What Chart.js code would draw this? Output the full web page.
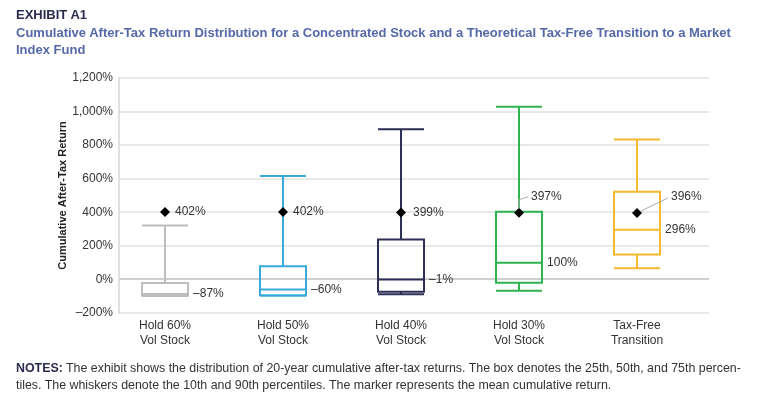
<!DOCTYPE html>
<html>
<head>
<meta charset="utf-8">
<title>Exhibit A1</title>
<script src="https://cdn.jsdelivr.net/npm/chart.js@4.4.0/dist/chart.umd.min.js"></script>
<style>
body{margin:0;background:#fff;font-family:"Liberation Sans",Arial,sans-serif;}
#wrap{position:relative;width:780px;height:399px;overflow:hidden;}
#exChart{position:absolute;left:0;top:0;}
.exhibit{position:absolute;left:16px;top:8px;font-size:13px;line-height:13px;font-weight:bold;color:#2b2b4e;}
.subtitle{position:absolute;left:16px;top:24px;font-size:13px;line-height:17px;font-weight:bold;color:#5568a8;white-space:nowrap;}
.notes{position:absolute;left:16px;top:360px;font-size:12.4px;line-height:16.5px;color:#333;white-space:nowrap;}
.notes b{color:#2b2b4e;}
</style>
</head>
<body>
<div id="wrap">
<canvas id="exChart" width="780" height="399"></canvas>
<div class="exhibit">EXHIBIT A1</div>
<div class="subtitle">Cumulative After-Tax Return Distribution for a Concentrated Stock and a Theoretical Tax-Free Transition to a Market<br>Index Fund</div>
<div class="notes"><b>NOTES:</b> The exhibit shows the distribution of 20-year cumulative after-tax returns. The box denotes the 25th, 50th, and 75th percen-<br>tiles. The whiskers denote the 10th and 90th percentiles. The marker represents the mean cumulative return.</div>
</div>
<script>
// box plot values (cumulative after-tax return, %)
const categories = [["Hold 60%", "Vol Stock"], ["Hold 50%", "Vol Stock"], ["Hold 40%", "Vol Stock"],
                    ["Hold 30%", "Vol Stock"], ["Tax-Free", "Transition"]];
const p10Vals    = [-99, -97, -89, -67, 67];     //lower whisker
const q1Vals     = [-96, -94, -73, -20, 149];    //box bottom
const medianVals = [-87, -60, -1, 100, 296];
const q3Vals     = [-22, 79, 238, 403, 522];     //box top
const p90Vals    = [322, 616, 895, 1028, 833];   //upper whisker
const meanVals   = [402, 402, 399, 397, 396];

const boxColours = ["#bdbdbd", "#38a9dc", "#2c2e56", "#2db34f", "#f6b82c"];
const halfW = 0.195; //half box width in category units

//label placement (pixel offsets from the mean marker)
const meanLabelOffsets = [[10, 0], [10, 0], [12, 0], [12, -16], [34, -16]];
const meanLeaders = [null, null, null, [[0, -4], [0, -13], [9, -16]], [[4, -2], [31, -15]]];

function fmtPct(v){
	const s = Math.abs(v).toLocaleString("en-US") + "%";
	return v < 0 ? "\u2013" + s : s;
}//end fmtPct

function boxPoints(i){ //outline of one box + whiskers, gaps split the segments
	const gap = {x: i, y: null};
	return [
		{x: i - halfW, y: q1Vals[i]}, {x: i + halfW, y: q1Vals[i]}, {x: i + halfW, y: q3Vals[i]},
		{x: i - halfW, y: q3Vals[i]}, {x: i - halfW, y: q1Vals[i]}, {x: i + halfW, y: q1Vals[i]}, gap,
		{x: i - halfW, y: medianVals[i]}, {x: i + halfW, y: medianVals[i]}, gap,
		{x: i, y: q3Vals[i]}, {x: i, y: p90Vals[i]}, gap,
		{x: i - halfW, y: p90Vals[i]}, {x: i + halfW, y: p90Vals[i]}, gap,
		{x: i, y: p10Vals[i]}, {x: i, y: q1Vals[i]}, gap,
		{x: i - halfW, y: p10Vals[i]}, {x: i + halfW, y: p10Vals[i]}
	];
}//end boxPoints

const datasets = [{
	label: "Mean",
	data: meanVals.map((v, i) => ({x: i, y: v})),
	showLine: false,
	pointStyle: "rectRot",
	pointRadius: 5,
	backgroundColor: "#000",
	borderColor: "#000",
	borderWidth: 0
}];

categories.forEach((c, i) => {
	datasets.push({
		label: c.join(" "),
		data: boxPoints(i),
		borderColor: boxColours[i],
		borderWidth: 2,
		borderJoinStyle: "miter",
		pointRadius: 0,
		spanGaps: false,
		tension: 0,
		fill: false
	});
});

const valueLabels = { //mean and median labels
	id: "valueLabels",
	afterDatasetsDraw(chart){
		const ctx = chart.ctx;
		const xs = chart.scales.x, ys = chart.scales.y;
		ctx.save();
		ctx.font = "12px 'Liberation Sans', Arial, sans-serif";
		ctx.fillStyle = "#333";
		ctx.textAlign = "left";
		ctx.textBaseline = "middle";
		categories.forEach((c, i) => {
			const mx = xs.getPixelForValue(i), my = ys.getPixelForValue(meanVals[i]);
			const lead = meanLeaders[i];
			if(lead){
				ctx.strokeStyle = "#aaa";
				ctx.lineWidth = 1;
				ctx.beginPath();
				lead.forEach((p, k) => k ? ctx.lineTo(mx + p[0], my + p[1]) : ctx.moveTo(mx + p[0], my + p[1]));
				ctx.stroke();
			}
			ctx.fillText(fmtPct(meanVals[i]), mx + meanLabelOffsets[i][0], my + meanLabelOffsets[i][1]);
			ctx.fillText(fmtPct(medianVals[i]), xs.getPixelForValue(i + halfW) + 5, ys.getPixelForValue(medianVals[i]));
		});
		ctx.restore();
	}
};//end valueLabels

Chart.defaults.font.family = "'Liberation Sans', Arial, sans-serif";
Chart.defaults.font.size = 12;
Chart.defaults.color = "#333";

new Chart("exChart", {
	type: "line",
	data: {datasets: datasets},
	options: {
		responsive: false,
		animation: false,
		events: [],
		layout: {padding: {left: 52, right: 71, top: 78, bottom: 0}},
		plugins: {legend: {display: false}, tooltip: {enabled: false}},
		scales: {
			x: {
				type: "linear",
				min: -0.39,
				max: 4.61,
				grid: {display: false},
				border: {display: false},
				afterBuildTicks: s => { s.ticks = categories.map((c, i) => ({value: i})); },
				afterFit: s => { s.height = 86; },
				ticks: {
					autoSkip: false,
					maxRotation: 0,
					padding: -3,
					font: {size: 12, lineHeight: 1.25},
					callback: v => categories[v]
				}
			},
			y: {
				min: -200,
				max: 1200,
				afterFit: s => { s.width = 67; },
				grid: {
					drawTicks: false,
					lineWidth: 2,
					color: c => c.tick && c.tick.value === 0 ? "#cfcfcf" : "#e8e8e8"
				},
				border: {display: true, color: "#e0e0e0", width: 2},
				ticks: {stepSize: 200, padding: 6, callback: v => fmtPct(v)},
				title: {
					display: true,
					text: "Cumulative After-Tax Return",
					color: "#222",
					font: {size: 11, weight: "bold"}
				}
			}
		}
	},
	plugins: [valueLabels]
});
</script>
</body>
</html>
